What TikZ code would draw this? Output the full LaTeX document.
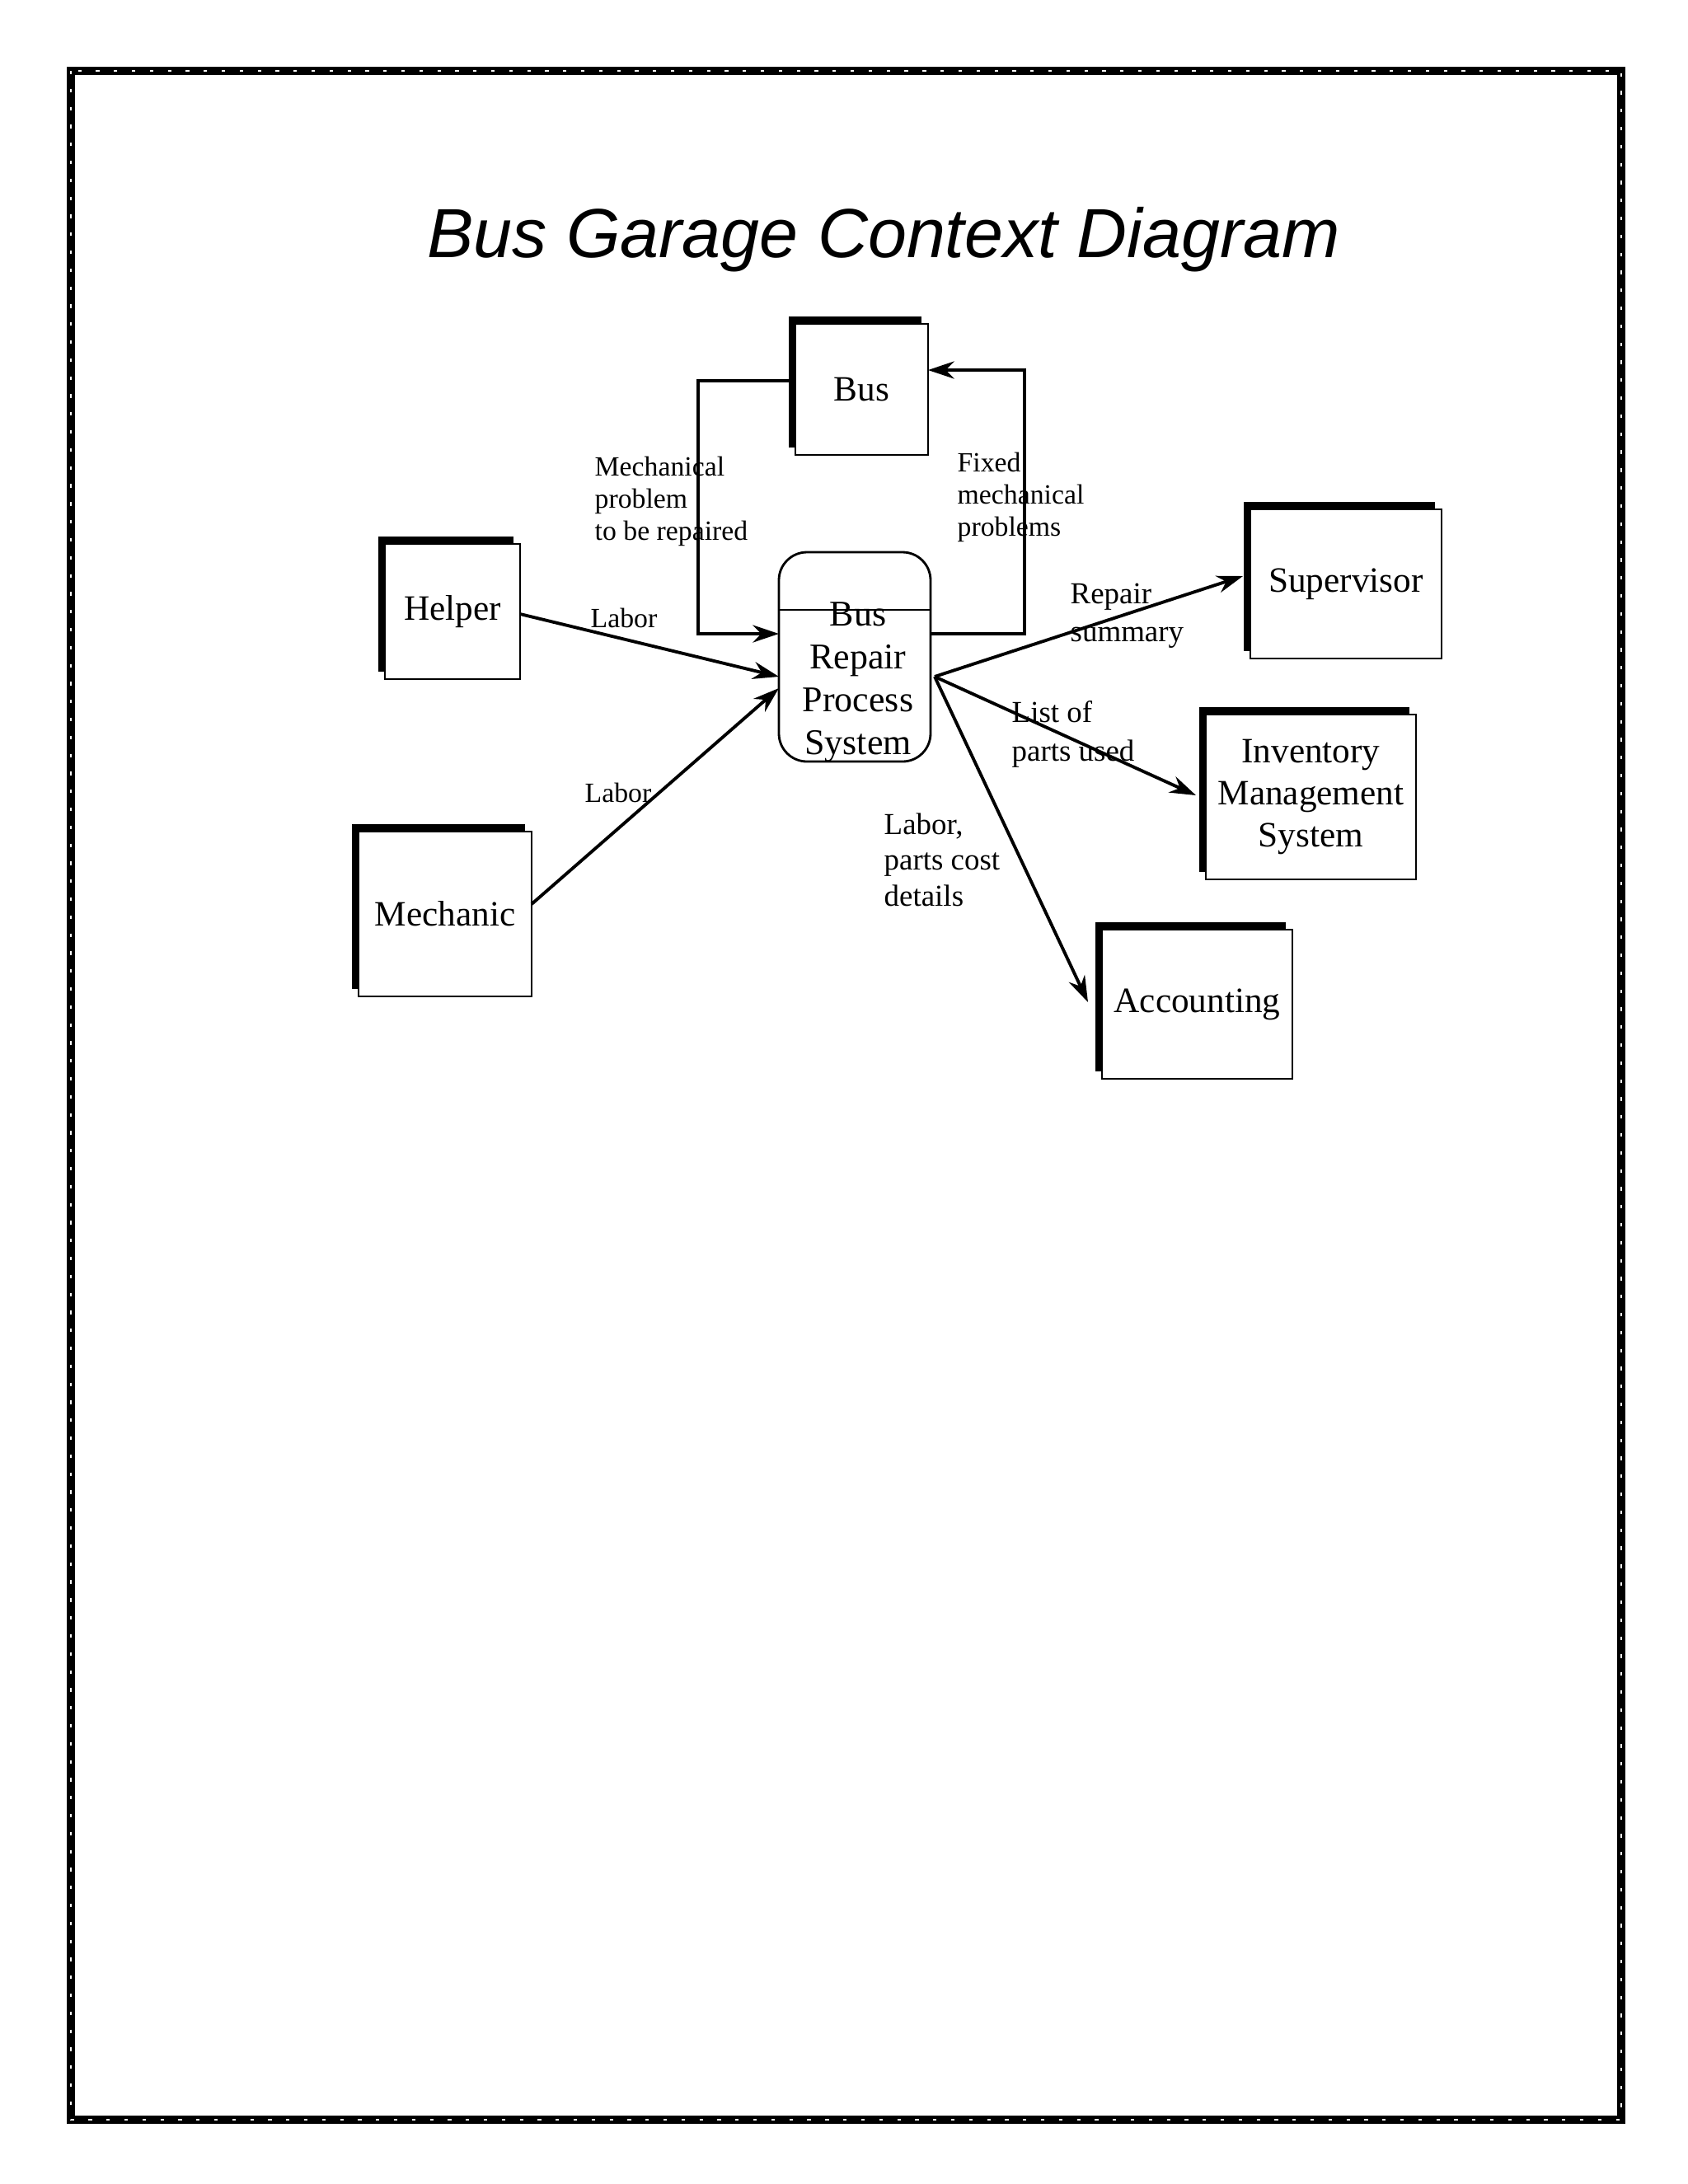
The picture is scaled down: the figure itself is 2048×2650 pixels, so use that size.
\documentclass[tikz,border=0pt]{standalone}
\usepackage{fontspec}
\setmainfont{Liberation Serif}
\newfontfamily\titlefont{Liberation Sans}
\usetikzlibrary{arrows.meta}
\begin{document}
\begin{tikzpicture}[x=0.01cm,y=-0.01cm,
  ent/.style={draw,line width=0.8pt,fill=white},
  shadow/.style={fill=black},
  lbl/.style={font=\fontsize{12.3}{14.6}\selectfont,align=center},
  small/.style={font=\fontsize{9.6}{11.2}\selectfont,align=left,anchor=west,inner sep=0pt},
  flow/.style={line width=1.1pt,-{Stealth[length=9pt,width=6pt]}}]
\useasboundingbox (0,0) rectangle (2048,2650);
% border
\draw[line width=3pt] (86,86) rectangle (1967,2572);
\draw[white,line width=0.7pt,dash pattern=on 1.2pt off 5pt] (86,86) rectangle (1967,2572);
% title
\node[font=\titlefont\itshape\fontsize{24}{29}\selectfont] (title) at (1072,291) {Bus Garage Context Diagram};
% entities: shadow + box
\newcommand{\ent}[6]{%
  \fill[shadow] (#1-8,#2-9) rectangle (#3-8,#4-9);
  \node[ent,minimum width={#3*0.01cm-#1*0.01cm},minimum height={#4*0.01cm-#2*0.01cm},anchor=north west,inner sep=0pt,outer sep=0pt,lbl] (#5) at (#1,#2) {#6};}
\ent{965}{393}{1126}{552}{bus}{Bus}
\ent{467}{660}{631}{824}{helper}{Helper}
\ent{435}{1009}{645}{1209}{mech}{Mechanic}
\ent{1517}{618}{1749}{799}{sup}{Supervisor}
\ent{1463}{867}{1718}{1067}{inv}{Inventory\\Management\\System}
\ent{1337}{1128}{1568}{1309}{acc}{Accounting}
% process
\draw[line width=0.8pt,rounded corners=0.34cm] (945,670) rectangle (1129,924);
\draw[line width=0.8pt] (945,740) -- (1129,740);
\node[lbl,font=\fontsize{12.5}{14.8}\selectfont] (ptext) at (1041,828) {Bus\\Repair\\Process\\System};
\coordinate (pl1) at (945,769);
\coordinate (pr1) at (1129,769);
\coordinate (hin) at (945,821);
\coordinate (min) at (945,835);
\coordinate (out) at (1134,821);
\coordinate (busL) at (965,462);
\coordinate (busR) at (1126,449);
% flows
\draw[flow] (busL) -- (847,462) -- (847,769) -- (pl1);
\draw[flow] (pr1) -- (1243,769) -- (1243,449) -- (busR);
\draw[flow] (helper.east |- 0,745) -- (hin);
\draw[flow] (mech.east |- 0,1097) -- (min);
\draw[flow] (out) -- (1508,699);
\draw[flow] (out) -- (1451,965);
\draw[flow] (out) -- (1320,1216);
% labels
\node[small,anchor=north west] (l1) at (721,553) {Mechanical\\problem\\to be repaired};
\node[small,anchor=north west] (l2) at (1161,548) {Fixed\\mechanical\\problems};
\node[small] (l3) at (716,750) {Labor};
\node[small] (l4) at (709,962) {Labor};
\node[small,anchor=north west,font=\fontsize{10.5}{13.3}\selectfont] (l5) at (1298,707) {Repair\\summary};
\node[small,anchor=north west,font=\fontsize{10.5}{13.3}\selectfont] (l6) at (1227,850) {List of\\parts used};
\node[small,anchor=north west,font=\fontsize{10.5}{12.4}\selectfont] (l7) at (1072,986) {Labor,\\parts cost\\details};
\end{tikzpicture}
\end{document}
